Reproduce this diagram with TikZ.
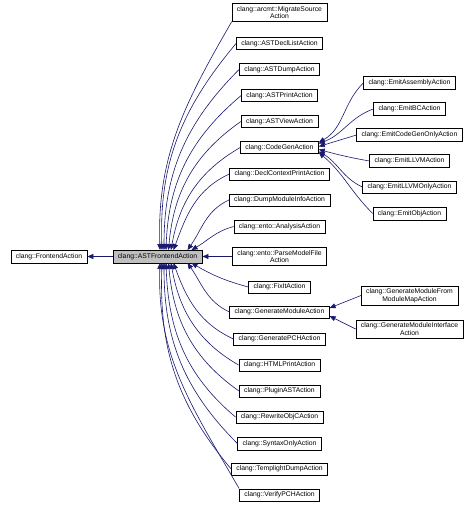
\documentclass[tikz,border=0pt]{standalone}
\usepackage{fontspec}
\setmainfont{Liberation Sans}
\usetikzlibrary{arrows.meta}
\definecolor{navyedge}{RGB}{25,25,112}
\definecolor{basefill}{RGB}{191,191,191}

\begin{document}
\begin{tikzpicture}[x=1pt, y=-1pt,
    cls/.style={draw=black, line width=0.5pt, fill=white, inner xsep=5pt, inner ysep=2.5pt,
        minimum height=12.5pt, align=center, font=\fontsize{6.8}{7.8}\selectfont},
    base/.style={cls, fill=basefill},
    inh/.style={draw=navyedge, line width=0.6pt, -{Triangle[length=6pt,width=5pt]}}]
    \fill[white] (0,0) rectangle (474,505);
    \useasboundingbox (0,0) rectangle (474,505);

    \node[cls] (fa) at (49,256.5) {clang::FrontendAction};
    \node[base] (ast) at (157.5,256.5) {clang::ASTFrontendAction};

    \node[cls] (m1) at (279.5,12.5) {clang::arcmt::MigrateSource\\Action};
    \node[cls] (m2) at (279.5,43.5) {clang::ASTDeclListAction};
    \node[cls] (m3) at (279.5,69.5) {clang::ASTDumpAction};
    \node[cls] (m4) at (279.5,95.5) {clang::ASTPrintAction};
    \node[cls] (m5) at (279.5,121.5) {clang::ASTViewAction};
    \node[cls] (cg) at (279.5,147.5) {clang::CodeGenAction};
    \node[cls] (m7) at (279.5,174) {clang::DeclContextPrintAction};
    \node[cls] (m8) at (279.5,200) {clang::DumpModuleInfoAction};
    \node[cls] (m9) at (279.5,226.5) {clang::ento::AnalysisAction};
    \node[cls] (m10) at (279.5,256.5) {clang::ento::ParseModelFile\\Action};
    \node[cls] (m11) at (279.5,287) {clang::FixItAction};
    \node[cls] (gm) at (279.5,312) {clang::GenerateModuleAction};
    \node[cls] (m13) at (279.5,339) {clang::GeneratePCHAction};
    \node[cls] (m14) at (279.5,365) {clang::HTMLPrintAction};
    \node[cls] (m15) at (279.5,391) {clang::PluginASTAction};
    \node[cls] (m16) at (279.5,417) {clang::RewriteObjCAction};
    \node[cls] (m17) at (279.5,443.5) {clang::SyntaxOnlyAction};
    \node[cls] (m18) at (279.5,469) {clang::TemplightDumpAction};
    \node[cls] (m19) at (279.5,495) {clang::VerifyPCHAction};

    \node[cls] (r1) at (409.5,83) {clang::EmitAssemblyAction};
    \node[cls] (r2) at (409.5,109) {clang::EmitBCAction};
    \node[cls] (r3) at (409.5,135) {clang::EmitCodeGenOnlyAction};
    \node[cls] (r4) at (409.5,161) {clang::EmitLLVMAction};
    \node[cls] (r5) at (409.5,187) {clang::EmitLLVMOnlyAction};
    \node[cls] (r6) at (409.5,213.5) {clang::EmitObjAction};
    \node[cls] (g1) at (409.5,295.5) {clang::GenerateModuleFrom\\ModuleMapAction};
    \node[cls] (g2) at (409.5,329) {clang::GenerateModuleInterface\\Action};

    \draw[inh] (ast.west) -- (fa.east);

    \draw[inh] (m1.south west) to[out=240,in=92] ([xshift=2.5pt]ast.north);
    \draw[inh] (m2.west) to[out=230,in=92] ([xshift=4.5pt]ast.north);
    \draw[inh] (m3.west) to[out=225,in=90] ([xshift=6.5pt]ast.north);
    \draw[inh] (m4.west) to[out=220,in=88] ([xshift=8.5pt]ast.north);
    \draw[inh] (m5.west) to[out=215,in=85] ([xshift=11pt]ast.north);
    \draw[inh] (cg.west) to[out=210,in=80] ([xshift=13.5pt]ast.north);
    \draw[inh] (m7.west) to[out=205,in=70] ([xshift=16pt]ast.north);
    \draw[inh] (m8.west) to[out=205,in=55] ([xshift=30pt]ast.north);
    \draw[inh] (m9.west) to[out=195,in=30] ([xshift=34pt]ast.north);
    \draw[inh] (m10.west) -- (ast.east);
    \draw[inh] (m11.west) to[out=165,in=-30] ([xshift=34pt]ast.south);
    \draw[inh] (gm.west) to[out=155,in=-55] ([xshift=30pt]ast.south);
    \draw[inh] (m13.west) to[out=155,in=-70] ([xshift=16pt]ast.south);
    \draw[inh] (m14.west) to[out=150,in=-80] ([xshift=13.5pt]ast.south);
    \draw[inh] (m15.west) to[out=145,in=-85] ([xshift=11pt]ast.south);
    \draw[inh] (m16.west) to[out=140,in=-88] ([xshift=8.5pt]ast.south);
    \draw[inh] (m17.west) to[out=135,in=-90] ([xshift=6.5pt]ast.south);
    \draw[inh] (m18.west) to[out=130,in=-92] ([xshift=4.5pt]ast.south);
    \draw[inh] (m19.north west) to[out=120,in=-92] ([xshift=2.5pt]ast.south);

    \draw[inh] (r1.west) to[out=225,in=30] ([yshift=5pt]cg.east);
    \draw[inh] (r2.west) to[out=200,in=20] ([yshift=4pt]cg.east);
    \draw[inh] (r3.west) -- ([yshift=1pt]cg.east);
    \draw[inh] (r4.west) to[out=170,in=-15] ([yshift=-2pt]cg.east);
    \draw[inh] (r5.west) to[out=155,in=-30] ([yshift=-4pt]cg.east);
    \draw[inh] (r6.west) to[out=135,in=-40] ([yshift=-5pt]cg.east);

    \draw[inh] (g1.west) -- ([yshift=4pt]gm.east);
    \draw[inh] (g2.west) -- ([yshift=-4pt]gm.east);
\end{tikzpicture}
\end{document}
